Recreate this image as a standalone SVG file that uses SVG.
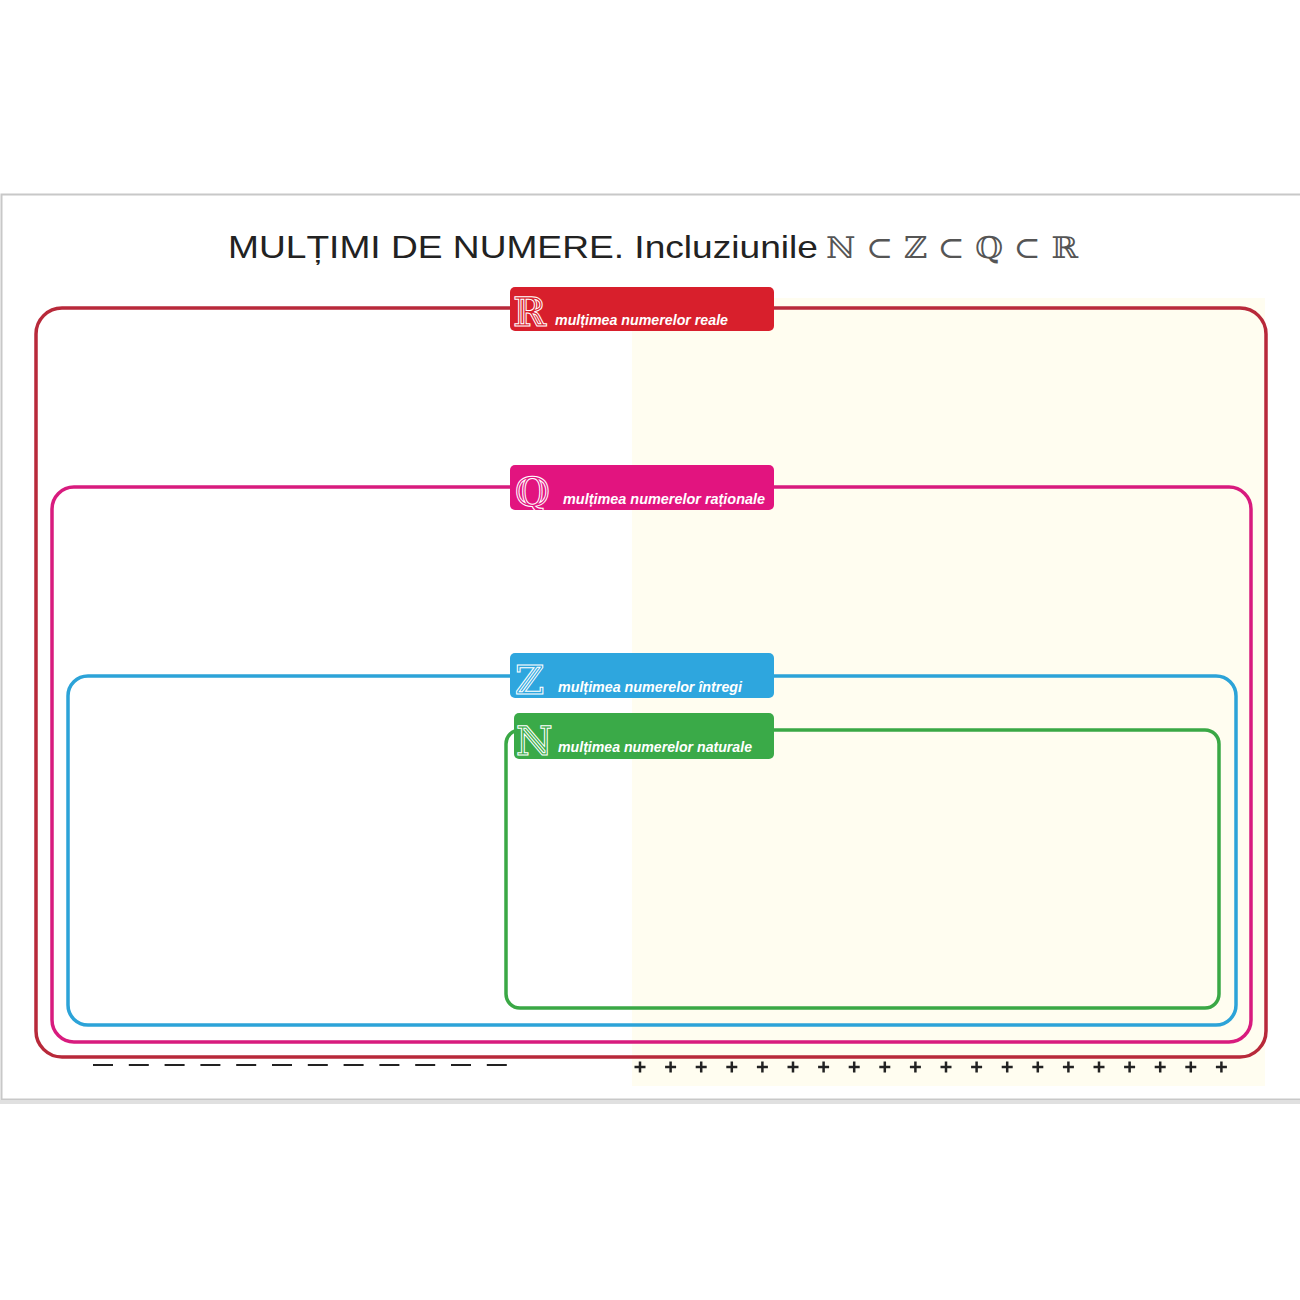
<svg xmlns="http://www.w3.org/2000/svg" width="1300" height="1300" viewBox="0 0 1300 1300">
<style>
.frame{fill:none;stroke-width:3.5}
.lbl{font-family:"Liberation Sans",Arial,sans-serif;font-style:italic;font-weight:bold;font-size:15px;fill:#fff}
.sym{font-family:"DejaVu Serif",serif;font-size:40px;fill:none;stroke:#fff;stroke-width:1}
.tsym{font-family:"DejaVu Serif",serif;font-size:30px;fill:#555}
</style>
<rect x="0" y="0" width="1300" height="1300" fill="#fff"/>
<rect x="1.5" y="194.5" width="1300" height="905" fill="#fff" stroke="#c8c8c8" stroke-width="2"/>
<rect x="0" y="1100" width="1300" height="4" fill="#e0e0e0"/>
<rect x="632" y="298" width="633" height="788" fill="#fffdf0"/>
<g id="title">
<text x="228" y="258" font-family="Liberation Sans,Arial,sans-serif" font-size="32" fill="#222" textLength="590" lengthAdjust="spacingAndGlyphs">MULȚIMI DE NUMERE. Incluziunile</text>
<text x="826" y="258" class="tsym" textLength="252" lengthAdjust="spacingAndGlyphs">ℕ ⊂ ℤ ⊂ ℚ ⊂ ℝ</text>
</g>
<g id="set-R">
<rect class="frame" x="36" y="308" width="1230" height="749" rx="26" stroke="#b8293a"/>
<rect x="510" y="287" width="264" height="44" rx="5" fill="#d81f2c"/>
<text x="513" y="326" class="sym">ℝ</text>
<text x="555" y="325" class="lbl" textLength="173" lengthAdjust="spacingAndGlyphs">mulțimea numerelor reale</text>
</g>
<g id="set-Q">
<rect class="frame" x="52" y="487" width="1199" height="555" rx="22" stroke="#d81b7e"/>
<rect x="510" y="465" width="264" height="45" rx="5" fill="#e2147f"/>
<text x="515" y="506" class="sym">ℚ</text>
<text x="563" y="504" class="lbl" textLength="202" lengthAdjust="spacingAndGlyphs">mulțimea numerelor raționale</text>
</g>
<g id="set-Z">
<rect class="frame" x="68" y="676" width="1168" height="349" rx="20" stroke="#2ca3d8"/>
<rect x="510" y="653" width="264" height="45" rx="5" fill="#2ea6de"/>
<text x="515" y="694" class="sym">ℤ</text>
<text x="558" y="692" class="lbl" textLength="184" lengthAdjust="spacingAndGlyphs">mulțimea numerelor întregi</text>
</g>
<g id="set-N">
<rect class="frame" x="506" y="730" width="713" height="278" rx="14" stroke="#3aa845"/>
<rect x="514" y="713" width="260" height="46" rx="5" fill="#3aaa48"/>
<text x="516" y="755" class="sym">ℕ</text>
<text x="558" y="752" class="lbl" textLength="194" lengthAdjust="spacingAndGlyphs">mulțimea numerelor naturale</text>
</g>
<g id="connectors">
<line x1="93" y1="1065" x2="513" y2="1065" stroke="#222" stroke-width="2" stroke-dasharray="20 15.8"/>
<g id="pluses" stroke="#222" stroke-width="2.5">
<path d="M634.5 1067h11M640 1061.5v11M665.1 1067h11M670.6 1061.5v11M695.7 1067h11M701.2 1061.5v11M726.3 1067h11M731.8 1061.5v11M756.9 1067h11M762.4 1061.5v11M787.5 1067h11M793 1061.5v11M818.1 1067h11M823.6 1061.5v11M848.7 1067h11M854.2 1061.5v11M879.3 1067h11M884.8 1061.5v11M909.9 1067h11M915.4 1061.5v11M940.5 1067h11M946 1061.5v11M971.1 1067h11M976.6 1061.5v11M1001.7 1067h11M1007.2 1061.5v11M1032.3 1067h11M1037.8 1061.5v11M1062.9 1067h11M1068.4 1061.5v11M1093.5 1067h11M1099 1061.5v11M1124.1 1067h11M1129.6 1061.5v11M1154.7 1067h11M1160.2 1061.5v11M1185.3 1067h11M1190.8 1061.5v11M1215.9 1067h11M1221.4 1061.5v11"/>
</g>
</g>
</svg>
